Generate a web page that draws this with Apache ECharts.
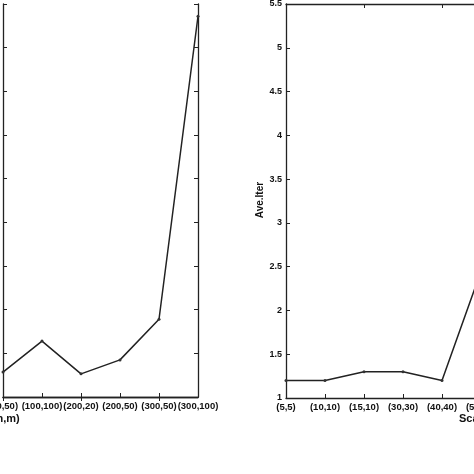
<!DOCTYPE html><html><head><meta charset="utf-8"><script src="https://cdn.jsdelivr.net/npm/echarts@6/dist/echarts.min.js"></script></head><body style="margin:0"><div id="c" style="width:474px;height:474px"></div><script>
var leftCats=['(50,50)','(100,100)','(200,20)','(200,50)','(300,50)','(300,100)'];
var leftVals=[0.57,1.28,0.53,0.85,1.78,8.72];
var rightCats=['(5,5)','(10,10)','(15,10)','(30,30)','(40,40)','(50,50)'];
var rightVals=[1.2,1.2,1.3,1.3,1.2,2.45];
var F='Liberation Sans';
var lab={fontFamily:F,fontWeight:'bold',fontSize:9.5,color:'#111',margin:4};
function xa(gi,cats,show,pos){return {type:'category',gridIndex:gi,data:cats,boundaryGap:false,position:pos,axisLine:{show:true,lineStyle:{color:'#222',width:1.3}},axisTick:{show:true,inside:true,length:4,alignWithLabel:true,lineStyle:{color:'#222'}},axisLabel:show?Object.assign({interval:0,hideOverlap:false},lab):{show:false},splitLine:{show:false}};}
function ya(gi,min,max,iv,show,pos){return {type:'value',gridIndex:gi,min:min,max:max,interval:iv,position:pos,axisLine:{show:true,onZero:false,lineStyle:{color:'#222',width:1.3}},axisTick:{show:true,inside:true,length:4,lineStyle:{color:'#222'}},axisLabel:show?Object.assign({},lab,{fontSize:9}):{show:false},splitLine:{show:false}};}
var ch=echarts.init(document.getElementById('c'));
ch.setOption({animation:false,
grid:[{left:3,top:4,width:195,height:393,containLabel:false,outerBoundsMode:'none'},{left:286,top:4,width:195,height:394,containLabel:false,outerBoundsMode:'none'}],
xAxis:[xa(0,leftCats,true,'bottom'),xa(0,leftCats,false,'top'),xa(1,rightCats,true,'bottom'),xa(1,rightCats,false,'top')],
yAxis:[ya(0,0,9,1,false,'left'),ya(0,0,9,1,false,'right'),ya(1,1,5.5,0.5,true,'left'),ya(1,1,5.5,0.5,false,'right')],
series:[
{type:'line',xAxisIndex:0,yAxisIndex:0,data:leftVals,symbol:'circle',symbolSize:3,itemStyle:{color:'#333'},lineStyle:{color:'#222',width:1.5}},
{type:'line',xAxisIndex:2,yAxisIndex:2,data:rightVals,symbol:'circle',symbolSize:3,itemStyle:{color:'#333'},lineStyle:{color:'#222',width:1.5}}],
graphic:[
{type:'text',left:-36,top:413,style:{text:'Scale(n,m)',fontFamily:F,fontWeight:'bold',fontSize:11,fill:'#111'}},
{type:'text',left:459,top:413,style:{text:'Scale(n,m)',fontFamily:F,fontWeight:'bold',fontSize:11,fill:'#111'}},
{type:'text',x:260,y:200,rotation:Math.PI/2,style:{text:'Ave.Iter',fontFamily:F,fontWeight:'bold',fontSize:10,fill:'#111',align:'center',verticalAlign:'middle'}}
]});
</script></body></html>
